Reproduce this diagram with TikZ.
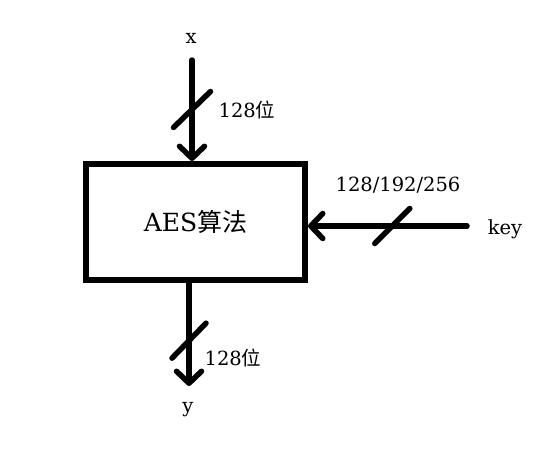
\documentclass[tikz,border=0pt]{standalone}
\usepackage{fontspec}
\setmainfont{DejaVu Serif}
\newfontfamily\cjk{Noto Sans CJK SC}
\usetikzlibrary{arrows.meta,calc}
\tikzset{
  conn/.style={line width=5.5pt, line cap=round,
    -{Straight Barb[length=12pt, width=25pt, line cap=round, line join=round]}},
  slashmark/.style={line width=5.5pt, line cap=round},
  lbl/.style={font=\fontsize{19.5}{24}\selectfont, inner sep=0pt},
  blk/.style={draw, line width=6pt, minimum width=219pt, minimum height=116pt,
    font=\fontsize{25}{30}\selectfont}
}
\begin{document}
\begin{tikzpicture}[x=1pt,y=-1pt]
\useasboundingbox (0,0) rectangle (551,461);
\node[blk] (box) at (195.5,222) {AES{\cjk 算法}};
\node[lbl] (xin) at (191,38) {x};
\coordinate (top) at (192,60);
\node[lbl] (yout) at (188,410) {y};
\coordinate (bot) at (189,386);
\node[lbl] (key) at (505,229) {key};
\coordinate (keyend) at (467,226);
% connectors
\draw[conn] (top) -- (top |- box.north);
\draw[conn] (bot |- box.south) -- (bot);
\draw[conn] (keyend) -- (keyend -| box.east);
% slashes
\draw[slashmark] ($(top)!0.49!(top |- box.north)$) ++(-18.5,18) -- ++(37,-36);
\draw[slashmark] ($(bot |- box.south)!0.56!(bot)$) ++(-17,17.5) -- ++(34,-35);
\draw[slashmark] ($(keyend)!0.47!(keyend -| box.east)$) ++(-17.5,17.5) -- ++(35,-35);
% labels
\node[lbl] (ltop) at (247,110) {128{\cjk 位}};
\node[lbl] (lbot) at (233,358) {128{\cjk 位}};
\node[lbl] (lkey) at (398,185) {128/192/256};
\end{tikzpicture}
\end{document}
